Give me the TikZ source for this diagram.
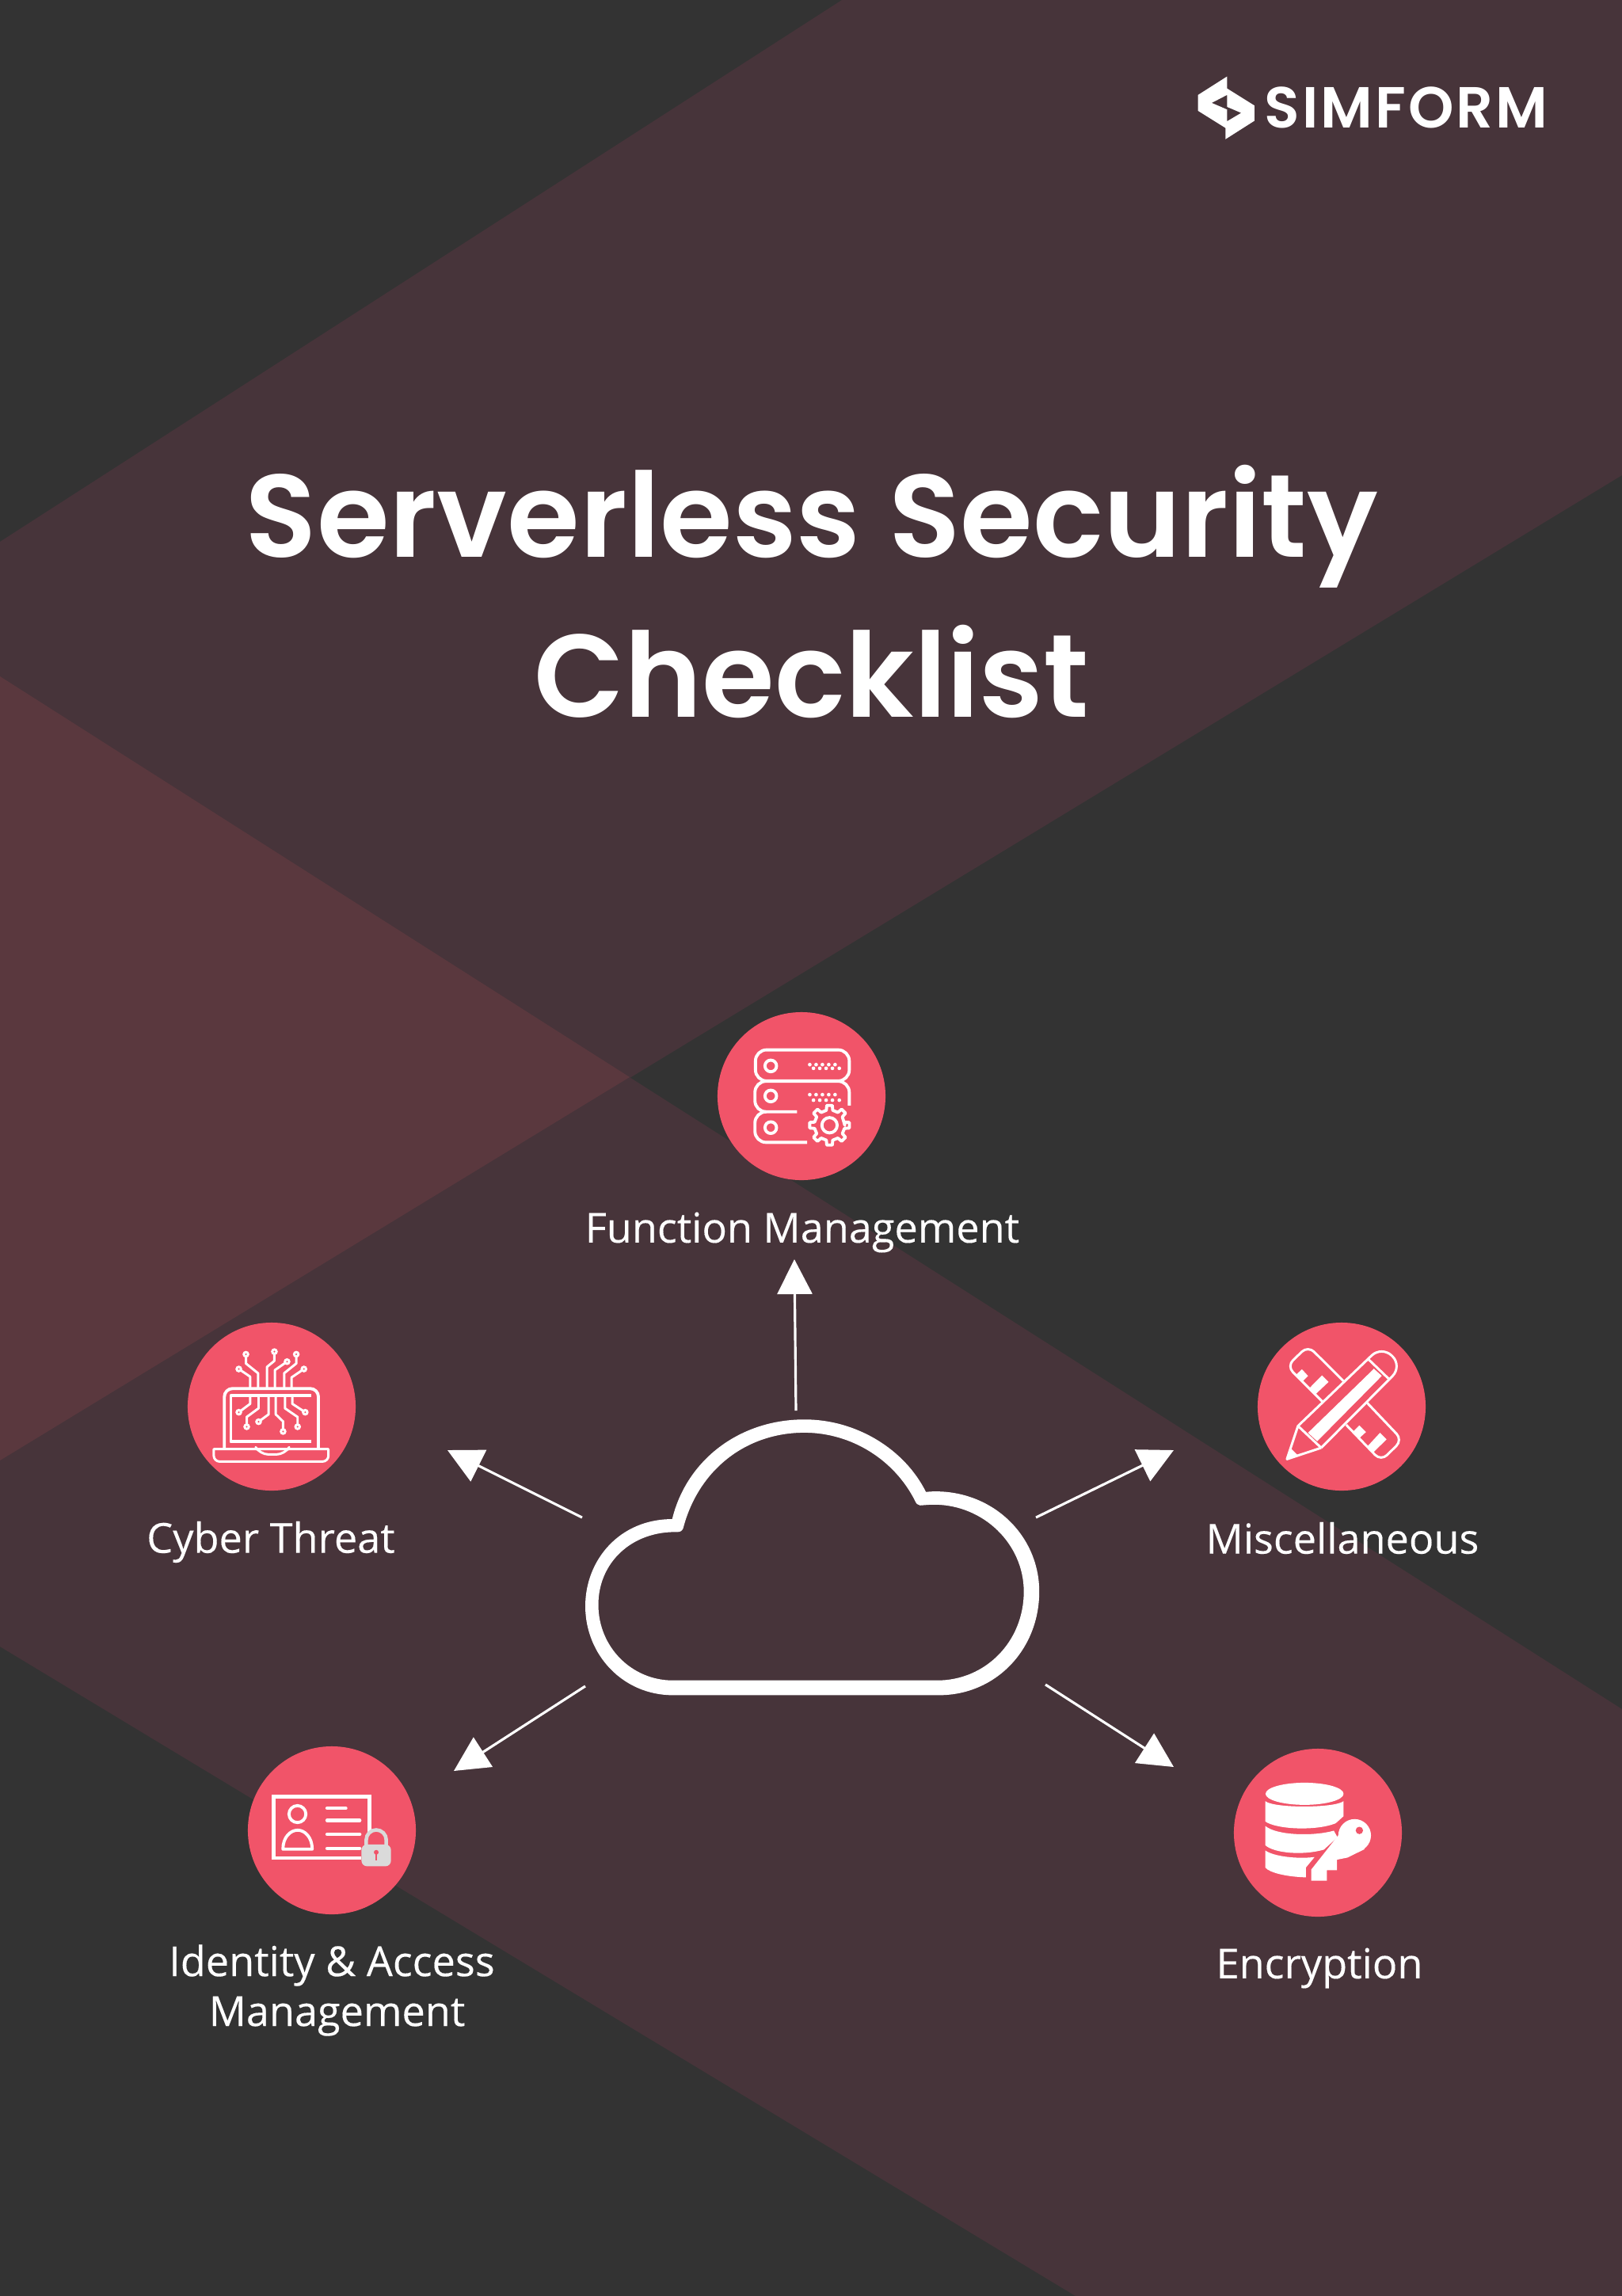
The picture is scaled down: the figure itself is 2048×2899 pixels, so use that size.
\documentclass[tikz,border=0pt]{standalone}
\usepackage{fontspec}
\usepackage{tikz}
\usetikzlibrary{arrows.meta,positioning}
\newfontfamily\titlefont{Poppins SemiBold}
\newfontfamily\logofont[LetterSpace=4.2]{Poppins SemiBold}
\newfontfamily\labelfont[FakeBold=0.25]{Open Sans}
\definecolor{darkbg}{HTML}{333333}
\definecolor{bandbg}{HTML}{47343A}
\definecolor{overlapbg}{HTML}{5A383E}
\definecolor{iconred}{HTML}{F15469}
\definecolor{lockgrey}{HTML}{DADADA}
\tikzset{
  badge/.style={circle,fill=iconred,minimum size=2.12cm,inner sep=0pt},
  caption/.style={text=white,align=center,font=\labelfont\fontsize{14.85}{17.9}\selectfont},
  ray/.style={draw=white,line width=0.9pt,-{Triangle[length=12.5pt,width=12.5pt]}},
  icon/.style={draw=white,line width=1.1pt,line join=round},
  thin icon/.style={draw=white,line width=0.85pt,line join=round},
  thick icon/.style={draw=white,line width=1.3pt,line cap=round,line join=round}
}
\begin{document}
\begin{tikzpicture}[x=0.01cm,y=-0.01cm]
    \useasboundingbox (0,0) rectangle (2048,2899);
    \clip (0,0) rectangle (2048,2899);
    \fill[darkbg] (0,0) rectangle (2048,2899);
    \fill[bandbg] (1063,0) -- (2048,0) -- (2048,600) -- (0,1844) -- (0,684) -- cycle;
    \fill[bandbg] (0,854) -- (2048,2158) -- (2048,2899) -- (1358,2899) -- (0,2079) -- cycle;
    \fill[overlapbg] (0,854) -- (795,1360) -- (0,1844) -- cycle;

    \fill[white,even odd rule,shift={(1490,70)},x=0.00333cm,y=-0.00333cm]
      (178,80) -- (178,125) -- (282,190) -- (282,248) -- (172,318) -- (172,275) -- (68,210) -- (68,150) -- cycle
      (120,180) -- (178,150) -- (178,195) -- (232,218) -- (178,250) -- (178,205) -- cycle;
    \node[text=white,anchor=base west,inner sep=0pt,font=\logofont\fontsize{20.8}{24}\selectfont] (logo) at (1596,161) {SIMFORM};

    \node[text=white,align=center,font=\titlefont\fontsize{42.2}{57.2}\selectfont] (title) at (1025,747) {Serverless Security\\Checklist};

    \node[badge] (function) at (1012,1384) {};
    \node[badge] (cyber) at (343,1776) {};
    \node[badge] (misc) at (1694,1776) {};
    \node[badge] (identity) at (419,2311) {};
    \node[badge] (encryption) at (1664,2314) {};

    \node[caption] (functionlabel) at (1013,1556) {Function Management};
    \node[caption] (cyberlabel) at (342,1947) {Cyber Threat};
    \node[caption] (misclabel) at (1695,1942) {Miscellaneous};
    \node[caption] (identitylabel) at (419,2513) {Identity \& Access\\\hspace*{3.7pt}Management};
    \node[caption] (encryptionlabel) at (1666,2485) {Encryption};

    \fill[white,even odd rule,shift={(700,1740)},x=0.004337cm,y=-0.00333cm]
      (345,1203) -- (1120,1203) .. controls (1285,1203) and (1412,1030) .. (1412,810)
      .. controls (1412,600) and (1280,430) .. (1110,430) .. controls (1100,430) and (1090,431) .. (1082,432)
      .. controls (1020,270) and (880,157) .. (728,157) .. controls (540,157) and (385,310) .. (343,535)
      .. controls (190,535) and (90,690) .. (90,865) .. controls (90,1050) and (200,1203) .. (345,1203) -- cycle
      (345,1147) -- (1115,1147) .. controls (1255,1147) and (1367,1000) .. (1367,810)
      .. controls (1367,630) and (1250,480) .. (1105,480) .. controls (1090,480) and (1080,482) .. (1065,483)
      .. controls (1058,483) and (1053,475) .. (1050,465) .. controls (990,310) and (865,207) .. (728,207)
      .. controls (560,207) and (420,345) .. (375,570) .. controls (372,580) and (366,584) .. (358,584)
      .. controls (225,580) and (128,700) .. (128,860) .. controls (128,1020) and (225,1147) .. (345,1147) -- cycle;

    \coordinate (cloudtop) at (1005,1781);
    \coordinate (cloudnw) at (735,1916);
    \coordinate (cloudne) at (1308,1916);
    \coordinate (cloudsw) at (739,2129);
    \coordinate (cloudse) at (1320,2127);
    \coordinate (tipfunction) at (1003,1590);
    \coordinate (tipcyber) at (565,1831);
    \coordinate (tipmisc) at (1482,1831);
    \coordinate (tipidentity) at (573,2236);
    \coordinate (tipencryption) at (1482,2231);
    \draw[ray] (cloudtop) -- (tipfunction);
    \draw[ray] (cloudnw) -- (tipcyber);
    \draw[ray] (cloudne) -- (tipmisc);
    \draw[ray] (cloudsw) -- (tipidentity);
    \draw[ray] (cloudse) -- (tipencryption);

    \begin{scope}[shift={(880,1260)},x=0.00333cm,y=-0.00333cm]
      \draw[icon,rounded corners=4pt] (222,197) rectangle (578,315);
      \draw[icon,rounded corners=4pt] (380,432) -- (220,432) -- (220,316) -- (578,316) -- (578,408);
      \draw[icon,rounded corners=4pt] (418,548) -- (220,548) -- (220,432) -- (250,432);
      \foreach \Y in {258,372,492} {\draw[icon] (280,\Y) circle (22);}
      \foreach \Y in {253,367} {\foreach \X in {428,452,476,500,524} {\fill[white] (\X,\Y) circle (7);}}
      \foreach \Y in {267,388} {\foreach \X in {442,466,490,514,540} {\fill[white] (\X,\Y) circle (7);}}
      \draw[icon] (503,483) circle (29);
      \draw[icon] (503+58,483) \foreach \A in {0,45,...,315}
        {-- ({503+58*cos(\A-12)},{483+58*sin(\A-12)}) -- ({503+76*cos(\A-8)},{483+76*sin(\A-8)})
         -- ({503+76*cos(\A+8)},{483+76*sin(\A+8)}) -- ({503+58*cos(\A+12)},{483+58*sin(\A+12)})} -- cycle;
    \end{scope}

    \begin{scope}[shift={(220,1650)},x=0.00333cm,y=-0.00333cm]
      \draw[icon,rounded corners=3pt] (190,540) -- (190,310) -- (547,310) -- (547,540);
      \draw[icon] (520,337) -- (215,337) -- (215,512) -- (520,512);
      \draw[thin icon] (150,565) -- (150,540) -- (585,540) -- (585,565) arc[start angle=0,end angle=90,x radius=22,y radius=22] -- (172,587) arc[start angle=90,end angle=180,x radius=22,y radius=22];
      \draw[thin icon,rounded corners=3pt] (315,543) -- (325,560) -- (420,560) -- (430,543);
      \draw[thin icon] (272,180) -- (272,215) -- (318,252) -- (318,310);
      \draw[thin icon] (380,170) -- (380,205) -- (352,228) -- (352,310);
      \draw[thin icon] (428,208) -- (382,240) -- (382,310);
      \draw[thin icon] (463,180) -- (463,215) -- (417,252) -- (417,310);
      \draw[thin icon] (245,236) -- (288,265) -- (288,310);
      \draw[thin icon] (492,236) -- (445,268) -- (445,310);
      \draw[thin icon] (288,337) -- (288,368) -- (245,400);
      \draw[thin icon] (320,337) -- (320,385) -- (275,418) -- (275,455);
      \draw[thin icon] (358,337) -- (358,408) -- (320,436);
      \draw[thin icon] (385,337) -- (385,408) -- (413,435) -- (413,473);
      \draw[thin icon] (420,337) -- (420,385) -- (468,418) -- (468,455);
      \draw[thin icon] (448,337) -- (448,368) -- (497,400);
      \foreach \X/\Y in {272/180,380/170,428/208,463/180,245/236,492/236,245/400,275/455,320/436,413/473,468/455,497/400}
        {\fill[white] (\X,\Y) circle (13); \fill[iconred] (\X,\Y) circle (3.5);}
    \end{scope}

    \begin{scope}[shift={(1570,1650)},x=0.00333cm,y=-0.00333cm]
      \draw[thin icon,rounded corners=3pt] (300,360) -- (165,225) -- (245,148) -- (380,282);
      \draw[thin icon,rounded corners=3pt] (470,365) -- (603,505) -- (522,585) -- (390,448);
      \fill[white] (222,237) -- (245,262) -- (222,285) -- (197,260) -- cycle;
      \fill[white] (298,260) -- (323,285) -- (270,335) -- (247,312) -- cycle;
      \fill[white] (440,450) -- (465,475) -- (440,498) -- (417,473) -- cycle;
      \fill[white] (518,478) -- (543,503) -- (492,553) -- (470,530) -- cycle;
      \draw[thin icon,rounded corners=5pt] (207,452) -- (525,148) -- (603,225) -- (295,535);
      \draw[thin icon] (295,535) -- (165,578) -- (207,452) -- (295,535);
      \draw[thin icon] (472,197) -- (550,272);
      \fill[white] (495,235) -- (525,262) -- (280,510) -- (245,478) -- cycle;
      \fill[white] (165,578) -- (178,535) -- (210,567) -- cycle;
    \end{scope}

    \begin{scope}[shift={(1545,2185)},x=0.00333cm,y=-0.00333cm]
      \fill[white] (307,240) ellipse (148 and 42);
      \fill[white] (158,268) .. controls (190,295) and (420,295) .. (455,268) -- (455,325) -- (425,352)
        .. controls (350,382) and (200,375) .. (158,345) -- cycle;
      \fill[white] (158,362) .. controls (200,398) and (340,402) .. (418,380) -- (432,405) -- (380,452)
        .. controls (300,475) and (190,465) .. (158,435) -- cycle;
      \fill[white] (158,455) .. controls (190,478) and (280,488) .. (345,480) -- (312,520) -- (312,557)
        .. controls (240,555) and (175,540) .. (158,520) -- cycle;
      \fill[white] (497,398) circle (62);
      \fill[white] (445,385) -- (332,528) -- (332,570) -- (392,570) -- (392,530) -- (430,530) -- (430,490) -- (470,482) -- (535,450) -- cycle;
      \fill[iconred] (515,379) circle (14);
    \end{scope}

    \begin{scope}[shift={(300,2185)},x=0.00333cm,y=-0.00333cm]
      \draw[draw=white,line width=1.3pt] (470,484) -- (137,484) -- (137,250) -- (500,250) -- (500,385);
      \draw[draw=white,line width=1.1pt] (227,317) circle (32);
      \draw[icon] (172,450) -- (283,450) .. controls (283,405) and (255,378) .. (228,378) .. controls (200,378) and (172,405) .. (172,450) -- cycle;
      \foreach \Y/\E in {295/410,341/463,394/463,447/463} {\draw[thick icon] (340,\Y) -- (\E,\Y);}
      \draw[draw=lockgrey,line width=1.3pt] (488,435) -- (488,415) arc[start angle=180,end angle=360,radius=38] -- (564,435);
      \fill[lockgrey,rounded corners=2pt] (470,432) rectangle (582,515);
      \fill[iconred] (526,462) circle (9);
      \fill[iconred] (522,465) rectangle (530,492);
    \end{scope}
  \end{tikzpicture}
\end{document}
